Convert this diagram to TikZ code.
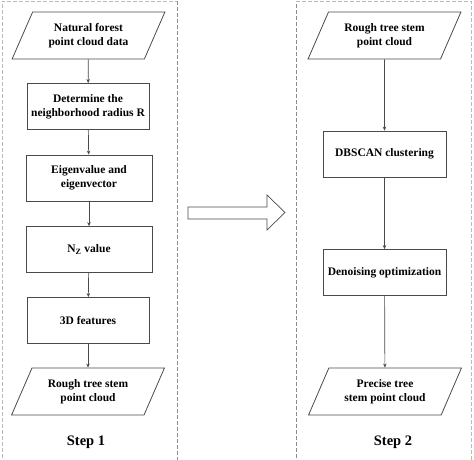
\documentclass[tikz,border=0pt]{standalone}
\usepackage{fontspec}
\setmainfont{Liberation Serif}
\usetikzlibrary{shapes.geometric,arrows.meta}
\definecolor{edgegray}{HTML}{4A4A4A}
\definecolor{panelgray}{HTML}{8C8C8C}
\begin{document}
\begin{tikzpicture}[x=1pt,y=-1pt,
  box/.style={draw=edgegray, line width=0.8pt, minimum height=46pt, align=center, font=\fontsize{11.5}{14}\selectfont\bfseries},
  data/.style={box, trapezium, trapezium left angle=63, trapezium right angle=117, trapezium stretches=true, minimum width=153pt, minimum height=47pt},
  flow/.style={draw=edgegray, line width=0.7pt, -{Stealth[length=4pt,width=3.5pt]}},
  panel/.style={draw=panelgray, line width=0.8pt, dash pattern=on 4pt off 2pt},
  steplabel/.style={font=\fontsize{14.5}{17}\selectfont\bfseries}]
\useasboundingbox (0,0) rectangle (474,460);
% panels
\draw[panel, draw=panelgray!60] (2,470) -- (2,1) -- (177,1);
\draw[panel] (177,1) -- (177,470);
\draw[panel] (296,470) -- (296,1);
\draw[panel, draw=panelgray!60] (296,1) -- (471,1) -- (471,470);
% step 1
\node[data] (l0) at (88.5,35.5){Natural forest\\point cloud data};
\node[box, minimum width=122pt] (l1) at (88,106.5){Determine the\\neighborhood radius R};
\node[box, minimum width=126pt] (l2) at (89,178){Eigenvalue and\\eigenvector};
\node[box, minimum width=126pt] (l3) at (89,249.5){N\textsubscript{Z} value};
\node[box, minimum width=122pt] (l4) at (88,320.5){3D features};
\node[data] (l5) at (88,391.5){Rough tree stem\\point cloud};
\draw[flow](l0) -- (l1);
\draw[flow](l1) -- (l2);
\draw[flow](l2) -- (l3);
\draw[flow](l3) -- (l4);
\draw[flow](l4) -- (l5);
\node[steplabel] (s1) at (86,442){Step 1};
% hollow arrow
\draw[edgegray, line width=0.7pt] (188,207) -- (267,207) -- (267,195) -- (285,212.5) -- (267,230) -- (267,219) -- (188,219) -- cycle;
% step 2
\node[data] (r0) at (384.5,35.5){Rough tree stem\\point cloud};
\node[box, minimum width=123pt] (r1) at (384.5,154){DBSCAN clustering};
\node[box, minimum width=123pt] (r2) at (384.5,272.5){Denoising optimization};
\node[data] (r3) at (385,391.5){Precise tree\\stem point cloud};
\draw[flow](r0) -- (r1);
\draw[flow](r1) -- (r2);
\draw[flow](r2) -- (r3);
\node[steplabel] (s2) at (393,442){Step 2};
\end{tikzpicture}
\end{document}
